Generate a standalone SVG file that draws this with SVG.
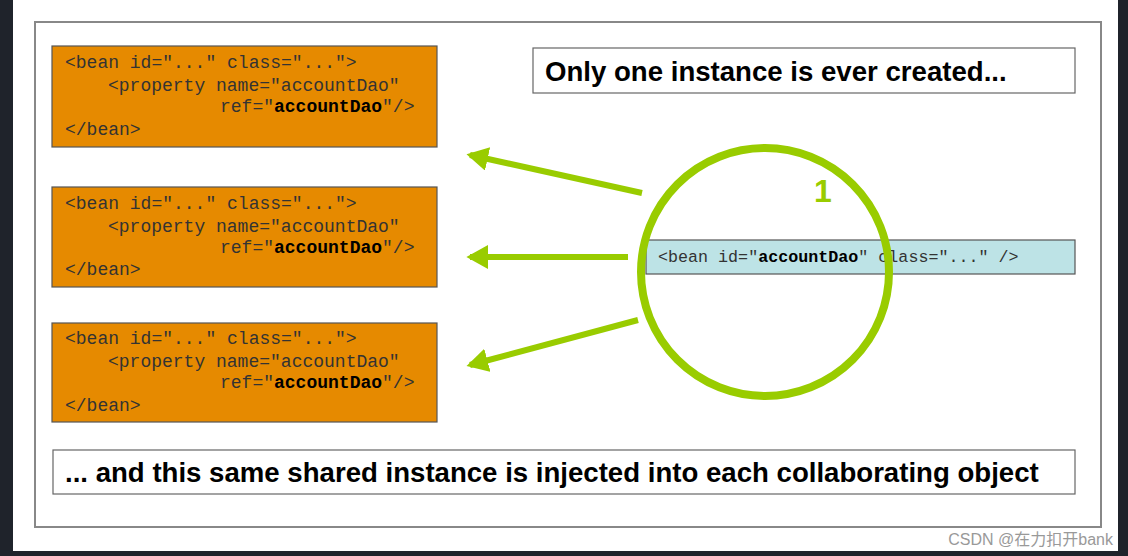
<svg xmlns="http://www.w3.org/2000/svg" width="1128" height="556" viewBox="0 0 1128 556">
<style>
.code{font-family:"Liberation Mono",monospace;font-size:18px;fill:#333}
.b{font-weight:bold;fill:#000}
.orange{fill:#E68A00;stroke:#555;stroke-width:1.2}
.title{font-family:"Liberation Sans",Arial,sans-serif;font-weight:bold;font-size:27.6px;fill:#000}
.arr{stroke:#99CC00;stroke-width:6;fill:none;marker-end:url(#ah)}
</style>
<defs>
<marker id="ah" markerWidth="5" markerHeight="5" refX="3" refY="2" orient="auto" markerUnits="strokeWidth"><path d="M0,0 L3.6,2 L0,4 Z" fill="#99CC00"/></marker>
</defs>
<rect width="1128" height="556" fill="#1f232b"/>
<rect x="13" y="0" width="1105" height="551" fill="#fff"/>
<rect x="35" y="22" width="1066" height="505" fill="#fff" stroke="#888" stroke-width="2"/>
<g id="bean1"><rect class="orange" x="52" y="46" width="385" height="101"/>
<text class="code" x="65" y="68">&lt;bean id="..." class="..."&gt;</text>
<text class="code" x="108" y="91">&lt;property name="accountDao"</text>
<text class="code" x="220" y="112">ref="<tspan class="b">accountDao</tspan>"/&gt;</text>
<text class="code" x="65" y="135">&lt;/bean&gt;</text></g>
<g id="bean2"><rect class="orange" x="52" y="187" width="385" height="100"/>
<text class="code" x="65" y="209">&lt;bean id="..." class="..."&gt;</text>
<text class="code" x="108" y="232">&lt;property name="accountDao"</text>
<text class="code" x="220" y="253">ref="<tspan class="b">accountDao</tspan>"/&gt;</text>
<text class="code" x="65" y="275">&lt;/bean&gt;</text></g>
<g id="bean3"><rect class="orange" x="52" y="323" width="385" height="99"/>
<text class="code" x="65" y="344">&lt;bean id="..." class="..."&gt;</text>
<text class="code" x="108" y="367">&lt;property name="accountDao"</text>
<text class="code" x="220" y="388">ref="<tspan class="b">accountDao</tspan>"/&gt;</text>
<text class="code" x="65" y="411">&lt;/bean&gt;</text></g>
<g id="title"><rect x="533" y="48" width="542" height="45" fill="#fff" stroke="#666" stroke-width="1.2"/>
<text class="title" x="545" y="81">Only one instance is ever created...</text></g>
<g id="footer"><rect x="53" y="450" width="1022" height="44" fill="#fff" stroke="#666" stroke-width="1.2"/>
<text class="title" x="65" y="482">... and this same shared instance is injected into each collaborating object</text></g>
<g id="accountDao"><rect x="646" y="240" width="429" height="34" fill="#BDE3E6" stroke="#555" stroke-width="1.2"/>
<text class="code" x="658" y="262" style="font-size:16.7px">&lt;bean id="<tspan class="b">accountDao</tspan>" class="..." /&gt;</text></g>
<g id="single"><circle cx="765" cy="272" r="124" fill="none" stroke="#99CC00" stroke-width="8"/>
<text x="823" y="202" font-family="Liberation Sans,Arial,sans-serif" font-weight="bold" font-size="32" fill="#99CC00" text-anchor="middle">1</text></g>
<g id="connectors">
<line class="arr" x1="642" y1="193" x2="470" y2="155"/>
<line class="arr" x1="628" y1="257" x2="470" y2="257"/>
<line class="arr" x1="638" y1="320" x2="470" y2="365"/>
</g>
<text x="1113" y="545" font-family="Liberation Sans,Arial,'Noto Sans CJK SC',sans-serif" font-size="16" fill="#999" text-anchor="end">CSDN @在力扣开bank</text>
</svg>
